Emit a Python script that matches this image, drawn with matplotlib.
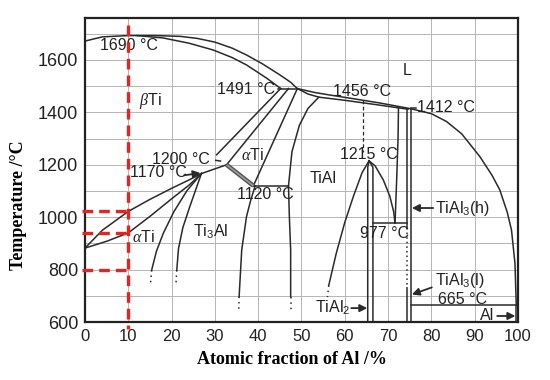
import matplotlib.pyplot as plt

plt.rcParams['font.family'] = 'Liberation Sans'
plt.rcParams['mathtext.fontset'] = 'custom'
plt.rcParams['mathtext.rm'] = 'Liberation Sans'
plt.rcParams['mathtext.it'] = 'Liberation Serif:italic'

# phase boundaries: Al content (at.%) and temperature (C)
liq_ti_x = [0, 4, 10, 16, 22, 26, 30, 34, 37.3, 41, 45, 47.5, 49]
liq_ti_t = [1672, 1688, 1693, 1693, 1690, 1682, 1668, 1645, 1619, 1585, 1543, 1515, 1491]
sol_beta_x = [12, 18, 24, 29.6, 34, 37.3, 42, 45.2]
sol_beta_t = [1693, 1684, 1664, 1638, 1609, 1581, 1530, 1491]
per_1491_x = [44.5, 49]
per_1491_t = [1491, 1491]
liq_mid_x = [49, 53, 56.6, 62, 68, 75.2]
liq_mid_t = [1491, 1476, 1466, 1452, 1436, 1414]
gam_top_x = [49, 51.5, 54, 60, 67, 74.6]
gam_top_t = [1491, 1470, 1458, 1446, 1430, 1412]
liq_al_x = [75.2, 80, 83.5, 87, 91.2, 94, 95.8, 97.5, 98.5, 99.3, 99.6]
liq_al_t = [1414, 1395, 1365, 1318, 1231, 1160, 1104, 1020, 951, 824, 665]

beta_tr_x = [30.4, 45.2]
beta_tr_t = [1238, 1491]
alpha_tr_x = [32.7, 47]
alpha_tr_t = [1200, 1491]
alpha_gam_x = [38.9, 49]
alpha_gam_t = [1120, 1489]
gam_alpha_x = [47, 47.8, 49.5, 51.5, 54]
gam_alpha_t = [1120, 1250, 1350, 1415, 1458]

ti_upper_x = [0, 4, 10, 15, 20, 24, 27, 32.7]
ti_upper_t = [882, 950, 1022, 1068, 1110, 1142, 1167, 1200]
ti_lower_x = [0, 5, 10, 15, 20, 24, 27]
ti_lower_t = [882, 908, 940, 1003, 1070, 1122, 1167]
a2_left_x = [26.9, 23.5, 20.5, 18.1, 16.5, 15.4]
a2_left_t = [1167, 1100, 1020, 939, 870, 798]
a2_right_x = [26.9, 24.2, 22.6, 21.6, 21.2]
a2_right_t = [1167, 1040, 960, 880, 798]
band_x = [32.7, 38.9]
band_t = [1200, 1120]
eut_1120_x = [38.9, 47]
eut_1120_t = [1120, 1120]
g_left_x = [39.3, 38.2, 37.3, 36.2, 35.6]
g_left_t = [1120, 1060, 1002, 875, 697]
g_right_x = [47, 47.1, 47.2, 47.5, 47.5]
g_right_t = [1120, 1060, 1002, 875, 697]

dome_left_x = [56.3, 58, 60, 62, 64, 65.6]
dome_left_t = [740, 860, 980, 1080, 1170, 1215]
dome_right_x = [65.6, 67, 68.9, 70.4, 71.3, 71.6]
dome_right_t = [1215, 1196, 1142, 1080, 1020, 977]
tial2_l_x = [65.6, 65.3, 65.3]
tial2_r_x = [65.6, 66.5, 66.5]
tial2_t = [1215, 1190, 600]
eta_x = [72.4, 72.3, 72.0, 71.6]
eta_t = [1418, 1300, 1150, 977]
line_977_x = [66.5, 74.4]
line_977_t = [977, 977]
tial3_l = 74.4
tial3_r = 75.2
line_665_x = [75.2, 99.6]
line_665_t = [665, 665]

# dotted ends
dots = [([15.4, 15.1], [798, 740]), ([21.2, 21.0], [798, 740]),
        ([35.6, 35.5], [697, 645]), ([47.5, 47.5], [697, 645]),
        ([56.3, 56.0], [740, 695])]

mark_x = 10
mark_t = [1022, 940, 800]

LC = '#2a2a2a'


def draw_lines(ax):
    solid = [(liq_ti_x, liq_ti_t), (sol_beta_x, sol_beta_t), (per_1491_x, per_1491_t),
             (liq_mid_x, liq_mid_t), (gam_top_x, gam_top_t), (liq_al_x, liq_al_t),
             (beta_tr_x, beta_tr_t), (alpha_tr_x, alpha_tr_t), (alpha_gam_x, alpha_gam_t),
             (gam_alpha_x, gam_alpha_t), (ti_upper_x, ti_upper_t), (ti_lower_x, ti_lower_t),
             (a2_left_x, a2_left_t), (a2_right_x, a2_right_t), (eut_1120_x, eut_1120_t),
             (g_left_x, g_left_t), (g_right_x, g_right_t), (dome_left_x, dome_left_t),
             (dome_right_x, dome_right_t), (tial2_l_x, tial2_t), (tial2_r_x, tial2_t),
             (eta_x, eta_t), (line_977_x, line_977_t), (line_665_x, line_665_t),
             ([tial3_l, tial3_l], [1412, 960]), ([tial3_l, tial3_l], [730, 600]),
             ([tial3_r, tial3_r], [1414, 600]), ([99.6, 99.6], [665, 600])]
    for x, t in solid:
        ax.plot(x, t, color=LC, lw=1.1)
    # thick double band 1200 -> 1120
    ax.plot(band_x, band_t, color='#555555', lw=3.2, solid_capstyle='butt')
    ax.plot(band_x, band_t, color='#9a9a9a', lw=1.2, solid_capstyle='butt')
    for x, t in dots:
        ax.plot(x, t, color=LC, lw=1.1, ls=(0, (1, 2.5)))
    ax.plot([tial3_l, tial3_l], [960, 730], color=LC, lw=1.1, ls=(0, (1, 2)))
    ax.plot([64.3, 64.3], [1446, 1250], color=LC, lw=0.9, ls=(0, (3, 2)))


def arrow(ax, x0, t0, x1, t1):
    ax.annotate('', xy=(x1, t1), xytext=(x0, t0),
                arrowprops=dict(arrowstyle='-|>', color=LC, lw=1.3, mutation_scale=11,
                                shrinkA=0, shrinkB=0))


def draw_labels(ax):
    fs = 11.5
    kw = dict(fontsize=fs, color='#222222', va='center')
    ax.text(3.5, 1657, '1690 °C', ha='left', **kw)
    ax.text(15, 1443, r'$\beta$Ti', ha='center', **kw)
    ax.text(44.0, 1489, '1491 °C', ha='right', **kw)
    ax.text(15.4, 1222, '1200 °C', ha='left', **kw)
    ax.plot([30.2, 31.3], [1217, 1214], color=LC, lw=1.1)
    ax.text(10.4, 1169, '1170 °C', ha='left', **kw)
    arrow(ax, 22.9, 1160, 26.7, 1168)
    ax.text(38.6, 1237, r'$\alpha$Ti', ha='center', **kw)
    ax.text(41.6, 1085, '1120 °C', ha='center', **kw)
    ax.text(55, 1146, 'TiAl', ha='center', **kw)
    ax.text(29.1, 943, r'Ti$_3$Al', ha='center', **kw)
    ax.text(13.6, 924, r'$\alpha$Ti', ha='center', **kw)
    ax.text(74.4, 1558, 'L', ha='center', **kw)
    ax.text(57.3, 1478, '1456 °C', ha='left', **kw)
    ax.text(76.7, 1420, '1412 °C', ha='left', **kw)
    ax.plot([75.4, 76.5], [1416, 1416], color=LC, lw=1.1)
    ax.text(65.6, 1241, '1215 °C', ha='center', **kw)
    ax.text(80.8, 1035, r'TiAl$_3$(h)', ha='left', **kw)
    arrow(ax, 80.4, 1035, 75.5, 1035)
    ax.text(63.5, 936, '977 °C', ha='left', **kw)
    ax.text(80.8, 760, r'TiAl$_3$(l)', ha='left', **kw)
    arrow(ax, 80.1, 732, 75.5, 705)
    ax.text(81.5, 684, '665 °C', ha='left', **kw)
    ax.text(91.2, 623, 'Al', ha='left', **kw)
    arrow(ax, 95.2, 623, 99.4, 623)
    ax.text(53.1, 653, r'TiAl$_2$', ha='left', **kw)
    arrow(ax, 61.5, 653, 65.2, 653)


def draw_marks(ax):
    red = dict(color='#e8231f', lw=2.4, ls=(0, (3.2, 1.8)), clip_on=False, zorder=5)
    ax.plot([mark_x, mark_x], [1735, 575], **red)
    for t in mark_t:
        ax.plot([-0.8, mark_x], [t, t], **red)


def main():
    fig = plt.figure(figsize=(5.5, 3.8), dpi=100)
    ax = fig.add_axes([0.1545, 0.1526, 0.7873, 0.8])
    ax.set_xlim(0, 100)
    ax.set_ylim(600, 1760)
    ax.set_xticks(range(0, 101, 10))
    ax.set_yticks(range(600, 1601, 200))
    ax.set_xticks(range(0, 101, 10), minor=False)
    for v in range(10, 100, 10):
        ax.axvline(v, color='#b5b5b5', lw=0.7, zorder=0)
    for v in range(700, 1701, 100):
        ax.axhline(v, color='#b5b5b5', lw=0.7, zorder=0)
    ax.tick_params(axis='x', length=0, pad=5, labelsize=12, colors='#222222')
    ax.tick_params(axis='y', length=0, pad=5, labelsize=13, colors='#222222')
    for s in ax.spines.values():
        s.set_linewidth(1.6)
        s.set_color('#222222')

    draw_lines(ax)
    draw_labels(ax)
    draw_marks(ax)

    fig.text(292 / 550, 1 - 360 / 380, 'Atomic fraction of Al /%', ha='center', va='center',
             fontsize=13, fontweight='bold', family='Liberation Serif')
    fig.text(19 / 550, 1 - 205 / 380, 'Temperature /°C', ha='center', va='center', rotation=90,
             fontsize=13, fontweight='bold', family='Liberation Serif')
    fig.savefig('out.png', dpi=100)


if __name__ == '__main__':
    main()
